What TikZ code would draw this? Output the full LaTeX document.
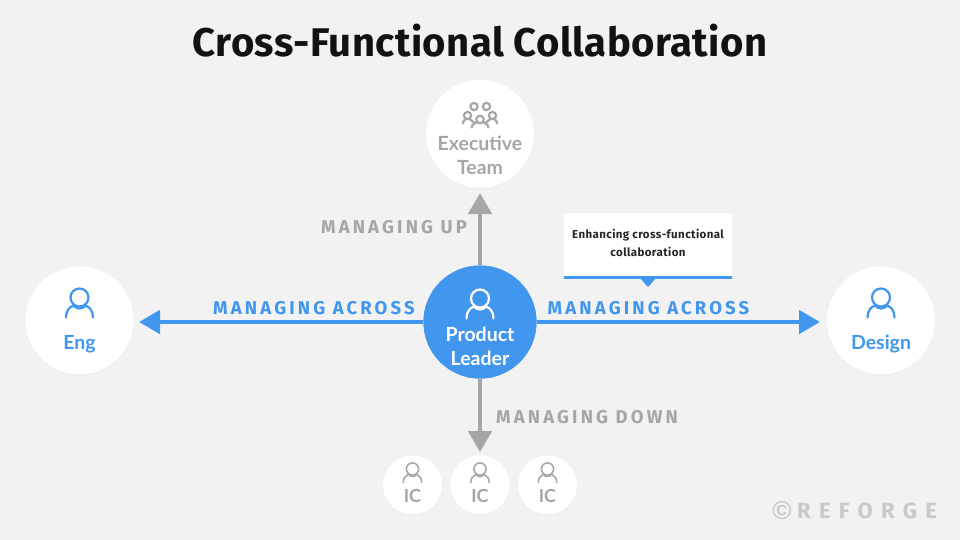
\documentclass[tikz,border=0pt]{standalone}
\usepackage{fontspec}
\setmainfont{Fira Sans}
\newfontfamily\titlefont[LetterSpace=1.1]{Fira Sans}
\newfontfamily\lblfont[LetterSpace=17]{Fira Sans}
\newfontfamily\callfont[LetterSpace=3.5]{Fira Sans}
\newfontfamily\refont[LetterSpace=38]{Fira Sans}
\newfontfamily\copyfont{Liberation Sans}
\newfontfamily\circfont{Lato}
\usetikzlibrary{arrows.meta,shadows}
\definecolor{bg}{HTML}{F2F2F2}
\definecolor{blu}{HTML}{4196EE}
\definecolor{gry}{HTML}{A6A6A6}
\definecolor{rfg}{HTML}{C9C9C9}
\tikzset{
  x=1pt,y=-1pt,
  disc/.style={circle,fill=white,draw=none,inner sep=0pt,minimum size=#1,
    drop shadow={opacity=.05,shadow xshift=0pt,shadow yshift=-1pt}},
  flow/.style={line width=4.8pt,-{Triangle[length=21pt,width=23pt]}},
  lbl/.style={font=\lblfont\bfseries\fontsize{18.5}{20}\selectfont,inner sep=0pt,anchor=center},
  ctext/.style={font=\circfont\bfseries\fontsize{#1}{24}\selectfont,inner sep=0pt,anchor=center},
  pics/person/.style args={#1/#2}{code={
    \begin{scope}[scale=#2,line width=2.2pt*#2,draw=#1,fill=none,line cap=round]
      \draw (0,0) circle (9);
      \draw (-13.5,20) .. controls (-13.5,13) and (-10,9.5) .. (-6,8);
      \draw (13.5,20) .. controls (13.5,13) and (10,9.5) .. (6,8);
      \draw (-6,8) .. controls (-3,12) and (3,12) .. (6,8);
    \end{scope}
  }},
}
\begin{document}
\begin{tikzpicture}
\fill[bg] (0,0) rectangle (960,540);
\useasboundingbox (0,0) rectangle (960,540);

\node[font=\titlefont\bfseries\fontsize{40}{44}\selectfont,inner sep=0pt,text=black!93] (title) at (480,41) {Cross-Functional Collaboration};

% discs
\node[disc=108pt] (exec) at (480,134) {};
\node[disc=108pt] (eng) at (79.5,320.5) {};
\node[disc=108pt] (design) at (881,320.5) {};
\node[disc=59pt] (ic1) at (412.5,485) {};
\node[disc=59pt] (ic2) at (480,485) {};
\node[disc=59pt] (ic3) at (547.5,485) {};
\node[circle,fill=blu,inner sep=0pt,minimum size=113pt] (pl) at (480,322) {};

% arrow tips
\coordinate (tipup) at (480,193);
\coordinate (tipdown) at (480,452);
\coordinate (tipleft) at (139,322);
\coordinate (tipright) at (820,322);

\draw[flow,draw=gry,fill=gry] (pl) -- (tipup);
\draw[flow,draw=gry,fill=gry] (pl) -- (tipdown);
\draw[flow,draw=blu,fill=blu] (pl) -- (tipleft);
\draw[flow,draw=blu,fill=blu] (pl) -- (tipright);
\node[circle,fill=blu,inner sep=0pt,minimum size=113pt] at (pl) {};

% icons
\pic at (480,298.5) {person={white/1}};
\pic at (79.5,297.5) {person={blu/1}};
\pic at (881,297.5) {person={blu/1}};
\pic at (412.5,469) {person={gry/.68}};
\pic at (480,469) {person={gry/.68}};
\pic at (547.5,469) {person={gry/.68}};

% group icon
\begin{scope}[draw=gry,line width=2.2pt,line cap=round]
  \draw (474,106.5) circle (3.6);
  \draw (486.5,106.5) circle (3.6);
  \draw (467.5,115.5) circle (3.6);
  \draw (492.5,115.5) circle (3.6);
  \draw (480,119.5) circle (3.8);
  \draw (463,123.5) .. controls (463,121) and (464,120) .. (465.5,119.5);
  \draw (497,123.5) .. controls (497,121) and (496,120) .. (494.5,119.5);
  \draw (471.5,127.5) .. controls (471.5,125) and (473,124) .. (476,123);
  \draw (488.5,127.5) .. controls (488.5,125) and (487,124) .. (484,123);
  \draw (470,119.5) -- (475,123);
  \draw (490,119.5) -- (485,123);
\end{scope}

% disc texts
\node[ctext=19.5,text=gry,align=center] (t1) at (480,155) {Executive\\Team};
\node[ctext=19.5,text=white,align=center] (t2) at (480,346) {Product\\Leader};
\node[ctext=19.5,text=blu] (t3) at (79.5,344) {Eng};
\node[ctext=19.5,text=blu] (t4) at (881,344) {Design};
\node[ctext=18,text=gry] (t5) at (412.5,496) {IC};
\node[ctext=18,text=gry] (t6) at (480,496) {IC};
\node[ctext=18,text=gry] (t7) at (547.5,496) {IC};

% labels
\node[lbl,text=gry] (l1) at (394,227) {MANAGING UP};
\node[lbl,text=gry] (l2) at (587,417) {MANAGING DOWN};
\node[lbl,text=blu] (l3) at (314,308) {MANAGING ACROSS};
\node[lbl,text=blu] (l4) at (648.5,308) {MANAGING ACROSS};

% callout
\node[fill=white,inner sep=0pt,minimum width=168pt,minimum height=64pt,
  drop shadow={opacity=.08,shadow xshift=0pt,shadow yshift=-1.5pt}] (call) at (648,245) {};
\fill[blu] (call.south west) ++(0,-1.5) rectangle ++(168,3);
\fill[blu] (640,278) -- (656,278) -- (648,287) -- cycle;
\node[font=\callfont\bfseries\fontsize{11.5}{18}\selectfont,align=center,inner sep=0pt,text=black!85] (ct) at (648,243) {Enhancing cross-functional\\collaboration};

% watermark
\node[font=\copyfont\bfseries\fontsize{26}{26}\selectfont,text=rfg,inner sep=0pt] (rfc) at (782,511) {©};
\node[font=\refont\bfseries\fontsize{22}{24}\selectfont,text=rfg,inner sep=0pt] (rf) at (867,511) {REFORGE};
\end{tikzpicture}
\end{document}
